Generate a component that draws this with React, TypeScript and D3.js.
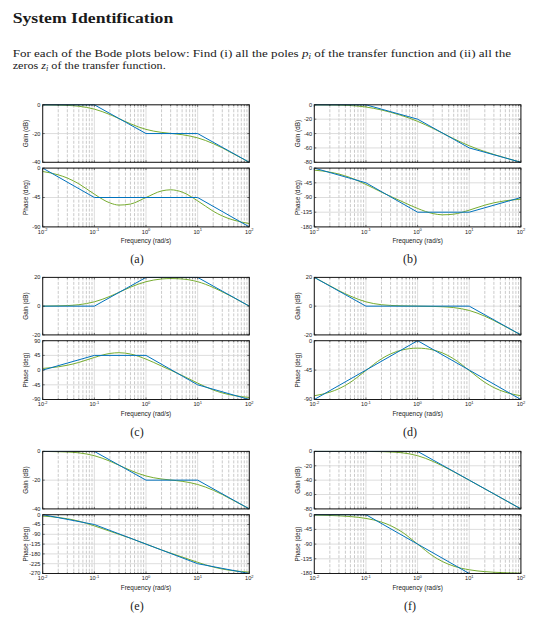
import { FC, useEffect, useRef } from 'react';
import * as d3 from 'd3';

type Pt = [number, number];

const freqs = [0.01, 0.02, 0.03, 0.05, 0.1, 0.2, 0.3, 0.5, 1, 2, 3, 5, 10, 20, 30, 50, 100];

// (a)
const gainA = [0, -0.2, -0.4, -1, -3, -6.8, -9.6, -13.2, -17.1, -19.2, -19.9, -20.8, -23, -27, -30, -34.2, -40];
const phaseA = [-5.2, -10.3, -15.2, -24, -39.9, -53.3, -56.6, -55, -45, -35, -33.2, -36.7, -50.1, -66, -73.3, -79.7, -84.8];
const gainAsymA: Pt[] = [[0.01, 0], [0.1, 0], [1, -20], [10, -20], [100, -40]];
const phaseAsymA: Pt[] = [[0.01, 0], [0.1, -45], [10, -45], [100, -90]];

// (b)
const gainB = [0, -0.2, -0.4, -1, -3.1, -7.2, -10.4, -15.1, -23, -32.9, -39.2, -47.2, -57, -65.1, -69.1, -73.8, -80];
const phaseB = [-6.2, -12.3, -18.3, -29.2, -50.1, -73.6, -86.6, -102.4, -123.6, -139.3, -143, -141, -128.7, -113.4, -106.3, -100.1, -95.1];
const gainAsymB: Pt[] = [[0.01, 0], [0.1, 0], [1, -20], [10, -60], [100, -80]];
const phaseAsymB: Pt[] = [[0.01, 0], [0.1, -45], [1, -135], [10, -135], [100, -90]];

// (c)
const gainC = [0, 0.2, 0.4, 1, 3, 6.8, 9.6, 13.2, 17, 18.9, 19.2, 18.9, 17, 13, 10, 5.9, 0];
const phaseC = [5.1, 10.1, 14.8, 23.4, 38.7, 51, 53.2, 49.3, 33.6, 12.4, -0.2, -16.4, -39.9, -60.9, -69.9, -77.7, -83.8];
const gainAsymC: Pt[] = [[0.01, 0], [0.1, 0], [1, 20], [10, 20], [100, 0]];
const phaseAsymC: Pt[] = [[0.01, 0], [0.1, 45], [1, 45], [10, -45], [100, -90]];

// (d)
const gainD = [20, 14.2, 10.8, 7, 3, 1, 0.5, 0.2, 0, -0.2, -0.4, -1, -3, -7, -10, -14.2, -20];
const phaseD = [-84.3, -78.8, -73.5, -63.7, -45.6, -27.7, -20.2, -14.2, -11.4, -14.2, -18.6, -27.7, -45.6, -63.7, -71.8, -78.8, -84.3];
const gainAsymD: Pt[] = [[0.01, 20], [0.1, 0], [10, 0], [100, -20]];
const phaseAsymD: Pt[] = [[0.01, -90], [0.1, -45], [1, 0], [10, -45], [100, -90]];

// (e)
const gainE = [0, -0.2, -0.4, -1, -3, -6.8, -9.6, -13.2, -17.1, -19.2, -19.9, -20.8, -23, -27, -30, -34.2, -40];
const phaseE = [-6.3, -12.6, -18.6, -29.7, -51.3, -75.9, -90, -108.1, -135, -161.9, -176.4, -194.1, -218.7, -240.3, -249.5, -257.4, -263.7];
const gainAsymE: Pt[] = [[0.01, 0], [0.1, 0], [1, -20], [10, -20], [100, -40]];
const phaseAsymE: Pt[] = [[0.01, 0], [0.1, -45], [1, -135], [10, -225], [100, -270]];

// (f)
const gainF = [0, 0, 0, 0, -0.1, -0.3, -0.8, -1.9, -6, -14, -20, -28.3, -40.1, -52.1, -59.1, -68, -80];
const phaseF = [-1.1, -2.3, -3.4, -5.7, -11.4, -22.6, -33.4, -53.1, -90, -126.9, -143.1, -157.4, -168.6, -174.3, -176.2, -177.7, -178.9];
const gainAsymF: Pt[] = [[0.01, 0], [1, 0], [10, -40], [100, -80]];
const phaseAsymF: Pt[] = [[0.01, 0], [0.1, 0], [1, -90], [10, -180], [100, -180]];

// tick sets
const gainTicks40 = [0, -20, -40];
const gainTicks80 = [0, -20, -40, -60, -80];
const gainTicks20 = [20, 0, -20];
const phaseTicks90 = [0, -45, -90];
const phaseTicks180 = [0, -45, -90, -135, -180];
const phaseTicksPM90 = [90, 45, 0, -45, -90];
const phaseTicks270 = [0, -45, -90, -135, -180, -225, -270];
const decadeExponents = [-2, -1, 0, 1, 2];
const captions = ['(a)', '(b)', '(c)', '(d)', '(e)', '(f)'];

const plots = [
  { gain: gainA, phase: phaseA, gainAsym: gainAsymA, phaseAsym: phaseAsymA, gainTicks: gainTicks40, phaseTicks: phaseTicks90 },
  { gain: gainB, phase: phaseB, gainAsym: gainAsymB, phaseAsym: phaseAsymB, gainTicks: gainTicks80, phaseTicks: phaseTicks180 },
  { gain: gainC, phase: phaseC, gainAsym: gainAsymC, phaseAsym: phaseAsymC, gainTicks: gainTicks20, phaseTicks: phaseTicksPM90 },
  { gain: gainD, phase: phaseD, gainAsym: gainAsymD, phaseAsym: phaseAsymD, gainTicks: gainTicks20, phaseTicks: phaseTicks90 },
  { gain: gainE, phase: phaseE, gainAsym: gainAsymE, phaseAsym: phaseAsymE, gainTicks: gainTicks40, phaseTicks: phaseTicks270 },
  { gain: gainF, phase: phaseF, gainAsym: gainAsymF, phaseAsym: phaseAsymF, gainTicks: gainTicks80, phaseTicks: phaseTicks180 },
];

// layout
const colLeft = [42.7, 314.3];
const plotW = 206.6;
const gainTop = [104.8, 277.4, 451.4];
const gainH = 57.5;
const phaseOffset = 63.3;
const phaseH = 58.8;
const captionX = [137, 410];

const BLUE = '#0072BD';
const GREEN = '#77AC30';
const AXIS = '#1a1a1a';
const SANS = 'Liberation Sans, Arial, Helvetica, sans-serif';
const SERIF = 'Liberation Serif, Times New Roman, serif';

let clipId = 0;

function drawPanel(
  svg: d3.Selection<SVGSVGElement, unknown, null, undefined>,
  x: d3.ScaleLogarithmic<number, number>,
  top: number,
  h: number,
  ticks: number[],
  label: string,
  exact: number[],
  asym: Pt[],
  showX: boolean
) {
  const [x0, x1] = x.range();
  const y = d3
    .scaleLinear()
    .domain([d3.min(ticks)!, d3.max(ticks)!])
    .range([top + h, top]);
  const g = svg.append('g');
  const decades = decadeExponents.map((e) => Math.pow(10, e));
  const minor = x.ticks().filter((t) => !decades.some((d) => Math.abs(d - t) < d * 1e-6));

  // minor grid (dashed)
  g.selectAll('line.minor')
    .data(minor)
    .enter()
    .append('line')
    .attr('x1', (d) => x(d))
    .attr('x2', (d) => x(d))
    .attr('y1', top)
    .attr('y2', top + h)
    .attr('stroke', '#a6a6a6')
    .attr('stroke-width', 0.6)
    .attr('stroke-dasharray', '3,1.5');

  // major grid
  g.selectAll('line.vmajor')
    .data(decades)
    .enter()
    .append('line')
    .attr('x1', (d) => x(d))
    .attr('x2', (d) => x(d))
    .attr('y1', top)
    .attr('y2', top + h)
    .attr('stroke', '#d4d4d4')
    .attr('stroke-width', 0.8);
  g.selectAll('line.hmajor')
    .data(ticks)
    .enter()
    .append('line')
    .attr('x1', x0)
    .attr('x2', x1)
    .attr('y1', (d) => y(d))
    .attr('y2', (d) => y(d))
    .attr('stroke', '#d4d4d4')
    .attr('stroke-width', 0.8);

  // curves
  const id = `clip${clipId++}`;
  g.append('clipPath')
    .attr('id', id)
    .append('rect')
    .attr('x', x0)
    .attr('y', top - 0.8)
    .attr('width', x1 - x0)
    .attr('height', h + 1.6);

  const smooth = d3
    .line<number>()
    .x((_, i) => x(freqs[i]))
    .y((d) => y(d))
    .curve(d3.curveMonotoneX);
  const straight = d3
    .line<Pt>()
    .x((d) => x(d[0]))
    .y((d) => y(d[1]));

  g.append('path')
    .attr('d', smooth(exact))
    .attr('fill', 'none')
    .attr('stroke', GREEN)
    .attr('stroke-width', 1)
    .attr('clip-path', `url(#${id})`);
  g.append('path')
    .attr('d', straight(asym))
    .attr('fill', 'none')
    .attr('stroke', BLUE)
    .attr('stroke-width', 1)
    .attr('clip-path', `url(#${id})`);

  // box
  g.append('rect')
    .attr('x', x0)
    .attr('y', top)
    .attr('width', x1 - x0)
    .attr('height', h)
    .attr('fill', 'none')
    .attr('stroke', AXIS)
    .attr('stroke-width', 1);

  // inward ticks
  const tk = g.append('g').attr('stroke', AXIS).attr('stroke-width', 0.6);
  ticks.forEach((t) => {
    tk.append('line').attr('x1', x0).attr('x2', x0 + 2).attr('y1', y(t)).attr('y2', y(t));
    tk.append('line').attr('x1', x1).attr('x2', x1 - 2).attr('y1', y(t)).attr('y2', y(t));
  });
  decades.forEach((d) => {
    tk.append('line').attr('x1', x(d)).attr('x2', x(d)).attr('y1', top).attr('y2', top + 2);
    tk.append('line').attr('x1', x(d)).attr('x2', x(d)).attr('y1', top + h).attr('y2', top + h - 2);
  });
  minor.forEach((d) => {
    tk.append('line').attr('x1', x(d)).attr('x2', x(d)).attr('y1', top).attr('y2', top + 1.2);
    tk.append('line').attr('x1', x(d)).attr('x2', x(d)).attr('y1', top + h).attr('y2', top + h - 1.2);
  });

  // y tick labels
  g.selectAll('text.ytick')
    .data(ticks)
    .enter()
    .append('text')
    .attr('x', x0 - 2.3)
    .attr('y', (d) => y(d))
    .attr('dy', '0.35em')
    .attr('text-anchor', 'end')
    .attr('font-family', SANS)
    .attr('font-size', 5.6)
    .attr('fill', AXIS)
    .text((d) => String(d));

  // y label
  g.append('text')
    .attr('transform', `translate(${x0 - 14.6},${top + h / 2}) rotate(-90)`)
    .attr('text-anchor', 'middle')
    .attr('font-family', SANS)
    .attr('font-size', 6.4)
    .attr('fill', AXIS)
    .text(label);

  if (showX) {
    decadeExponents.forEach((e) => {
      const t = g
        .append('text')
        .attr('x', x(Math.pow(10, e)))
        .attr('y', top + h + 6.8)
        .attr('text-anchor', 'middle')
        .attr('font-family', SANS)
        .attr('font-size', 5.6)
        .attr('fill', AXIS);
      t.append('tspan').text('10');
      t.append('tspan').attr('font-size', 4).attr('dy', -2.5).text(String(e));
    });
    g.append('text')
      .attr('x', (x0 + x1) / 2)
      .attr('y', top + h + 16.4)
      .attr('text-anchor', 'middle')
      .attr('font-family', SANS)
      .attr('font-size', 6.4)
      .attr('fill', AXIS)
      .text('Frequency (rad/s)');
  }
}

const App: FC = () => {
  const chartRef = useRef<SVGSVGElement>(null);

  useEffect(() => {
    const svg = d3.select(chartRef.current!);
    svg.selectAll('*').remove();

    // heading and question text
    svg
      .append('text')
      .attr('x', 12.7)
      .attr('y', 22.7)
      .attr('font-family', SERIF)
      .attr('font-weight', 'bold')
      .attr('font-size', 14.5)
      .attr('textLength', 160.6)
      .attr('lengthAdjust', 'spacingAndGlyphs')
      .attr('fill', '#1a1a1a')
      .text('System Identification');

    const line1 = svg
      .append('text')
      .attr('x', 12.7)
      .attr('y', 57.3)
      .attr('font-family', SERIF)
      .attr('font-size', 11)
      .attr('fill', '#1a1a1a')
      .attr('textLength', 498.3)
      .attr('lengthAdjust', 'spacingAndGlyphs')
      .style('white-space', 'pre');
    line1.append('tspan').text('For each of the Bode plots below: Find (i) all the poles ');
    line1.append('tspan').attr('font-style', 'italic').text('p');
    line1.append('tspan').attr('font-style', 'italic').attr('font-size', 7.5).attr('dy', 2).text('i');
    line1.append('tspan').attr('dy', -2).text(' of the transfer function and (ii) all the');

    const line2 = svg
      .append('text')
      .attr('x', 12.7)
      .attr('y', 69.3)
      .attr('font-family', SERIF)
      .attr('font-size', 11)
      .attr('fill', '#1a1a1a')
      .attr('textLength', 153)
      .attr('lengthAdjust', 'spacingAndGlyphs')
      .style('white-space', 'pre');
    line2.append('tspan').text('zeros ');
    line2.append('tspan').attr('font-style', 'italic').text('z');
    line2.append('tspan').attr('font-style', 'italic').attr('font-size', 7.5).attr('dy', 2).text('i');
    line2.append('tspan').attr('dy', -2).text(' of the transfer function.');

    plots.forEach((p, i) => {
      const col = i % 2;
      const row = Math.floor(i / 2);
      const left = colLeft[col];
      const x = d3.scaleLog().domain([0.01, 100]).range([left, left + plotW]);
      const gTop = gainTop[row];
      const pTop = gTop + phaseOffset;
      drawPanel(svg, x, gTop, gainH, p.gainTicks, 'Gain (dB)', p.gain, p.gainAsym, false);
      drawPanel(svg, x, pTop, phaseH, p.phaseTicks, 'Phase (deg)', p.phase, p.phaseAsym, true);
      svg
        .append('text')
        .attr('x', captionX[col])
        .attr('y', pTop + phaseH + 36)
        .attr('text-anchor', 'middle')
        .attr('font-family', SERIF)
        .attr('font-size', 12)
        .attr('fill', '#1a1a1a')
        .text(captions[i]);
    });
  }, []);

  return (
    <svg
      ref={chartRef}
      width={544}
      height={625}
      style={{ position: 'absolute', left: 0, top: 0, background: '#fff' }}
    />
  );
};

export default App;
